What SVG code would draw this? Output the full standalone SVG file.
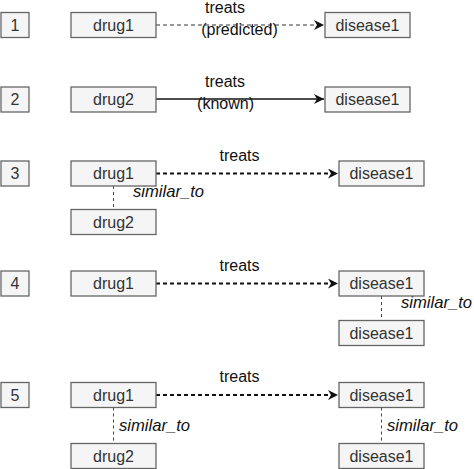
<svg xmlns="http://www.w3.org/2000/svg" width="474" height="469" viewBox="0 0 474 469">
<style>
.box{fill:#f5f5f5;stroke:#666;stroke-width:1.3}
.t{font-family:"Liberation Sans",Arial,sans-serif;font-size:16px;fill:#333;text-anchor:middle}
.l{font-family:"Liberation Sans",Arial,sans-serif;font-size:16px;fill:#111;text-anchor:middle}
.i{font-family:"Liberation Sans",Arial,sans-serif;font-size:16.6px;font-style:italic;fill:#111}
.e{fill:none;stroke:#111}
.d1{stroke-width:1;stroke-dasharray:4 3;stroke:#333}
.d2{stroke-width:1.8;stroke-dasharray:4 3}
.s{stroke-width:1.7}
.v{stroke-width:1;stroke-dasharray:3 3;stroke:#444}
</style>
<defs>
<marker id="arr" viewBox="0 0 10 10" refX="10" refY="5" markerWidth="11" markerHeight="10" markerUnits="userSpaceOnUse" orient="auto">
<path d="M0,0 L10,5 L0,10 L3,5 Z" fill="#111"/>
</marker>
</defs>
<rect width="474" height="469" fill="#fff"/>
<g id="connectors">
<line class="e d1" x1="156" y1="25" x2="324" y2="25" marker-end="url(#arr)"/>
<line class="e s" x1="156" y1="99" x2="324" y2="99" marker-end="url(#arr)"/>
<line class="e d2" x1="156" y1="173.5" x2="338" y2="173.5" marker-end="url(#arr)"/>
<line class="e v" x1="113.5" y1="186" x2="113.5" y2="209"/>
<line class="e d2" x1="156" y1="283.5" x2="338" y2="283.5" marker-end="url(#arr)"/>
<line class="e v" x1="381.5" y1="296" x2="381.5" y2="320.5"/>
<line class="e d2" x1="156" y1="395" x2="338" y2="395" marker-end="url(#arr)"/>
<line class="e v" x1="113.5" y1="407.5" x2="113.5" y2="443"/>
<line class="e v" x1="381.5" y1="407.5" x2="381.5" y2="443"/>
<text class="l" x="225" y="13">treats</text>
<text class="l" x="239.5" y="35">(predicted)</text>
<text class="l" x="225" y="87">treats</text>
<text class="l" x="225.5" y="109">(known)</text>
<text class="l" x="239.5" y="160.5">treats</text>
<text class="i" x="133" y="197">similar_to</text>
<text class="l" x="239.5" y="271">treats</text>
<text class="i" x="401" y="307.5">similar_to</text>
<text class="l" x="239.5" y="381.5">treats</text>
<text class="i" x="119" y="431">similar_to</text>
<text class="i" x="387" y="431">similar_to</text>
</g>
<g id="n1"><rect class="box" x="1" y="12.5" width="28" height="25"/><text class="t" x="15" y="30.5">1</text></g>
<g id="r1-drug1"><rect class="box" x="71" y="12.5" width="85" height="25"/><text class="t" x="113.5" y="30.5">drug1</text></g>
<g id="r1-disease1"><rect class="box" x="325" y="12.5" width="85" height="25"/><text class="t" x="367.5" y="30.5">disease1</text></g>
<g id="n2"><rect class="box" x="1" y="87" width="28" height="25"/><text class="t" x="15" y="105">2</text></g>
<g id="r2-drug2"><rect class="box" x="71" y="87" width="85" height="25"/><text class="t" x="113.5" y="105">drug2</text></g>
<g id="r2-disease1"><rect class="box" x="325" y="87" width="85" height="25"/><text class="t" x="367.5" y="105">disease1</text></g>
<g id="n3"><rect class="box" x="1" y="161" width="28" height="25"/><text class="t" x="15" y="179">3</text></g>
<g id="r3-drug1"><rect class="box" x="71" y="161" width="85" height="25"/><text class="t" x="113.5" y="179">drug1</text></g>
<g id="r3-disease1"><rect class="box" x="339" y="161" width="85" height="25"/><text class="t" x="381.5" y="179">disease1</text></g>
<g id="r3-drug2"><rect class="box" x="71" y="209.5" width="85" height="25"/><text class="t" x="113.5" y="227.5">drug2</text></g>
<g id="n4"><rect class="box" x="1" y="271" width="28" height="25"/><text class="t" x="15" y="289">4</text></g>
<g id="r4-drug1"><rect class="box" x="71" y="271" width="85" height="25"/><text class="t" x="113.5" y="289">drug1</text></g>
<g id="r4-disease1"><rect class="box" x="339" y="271" width="85" height="25"/><text class="t" x="381.5" y="289">disease1</text></g>
<g id="r4-disease1b"><rect class="box" x="339" y="320.5" width="85" height="25"/><text class="t" x="381.5" y="338.5">disease1</text></g>
<g id="n5"><rect class="box" x="1" y="382.5" width="28" height="25"/><text class="t" x="15" y="400.5">5</text></g>
<g id="r5-drug1"><rect class="box" x="71" y="382.5" width="85" height="25"/><text class="t" x="113.5" y="400.5">drug1</text></g>
<g id="r5-disease1"><rect class="box" x="339" y="382.5" width="85" height="25"/><text class="t" x="381.5" y="400.5">disease1</text></g>
<g id="r5-drug2"><rect class="box" x="71" y="443.5" width="85" height="25"/><text class="t" x="113.5" y="461.5">drug2</text></g>
<g id="r5-disease1b"><rect class="box" x="339" y="443.5" width="85" height="25"/><text class="t" x="381.5" y="461.5">disease1</text></g>
</svg>
